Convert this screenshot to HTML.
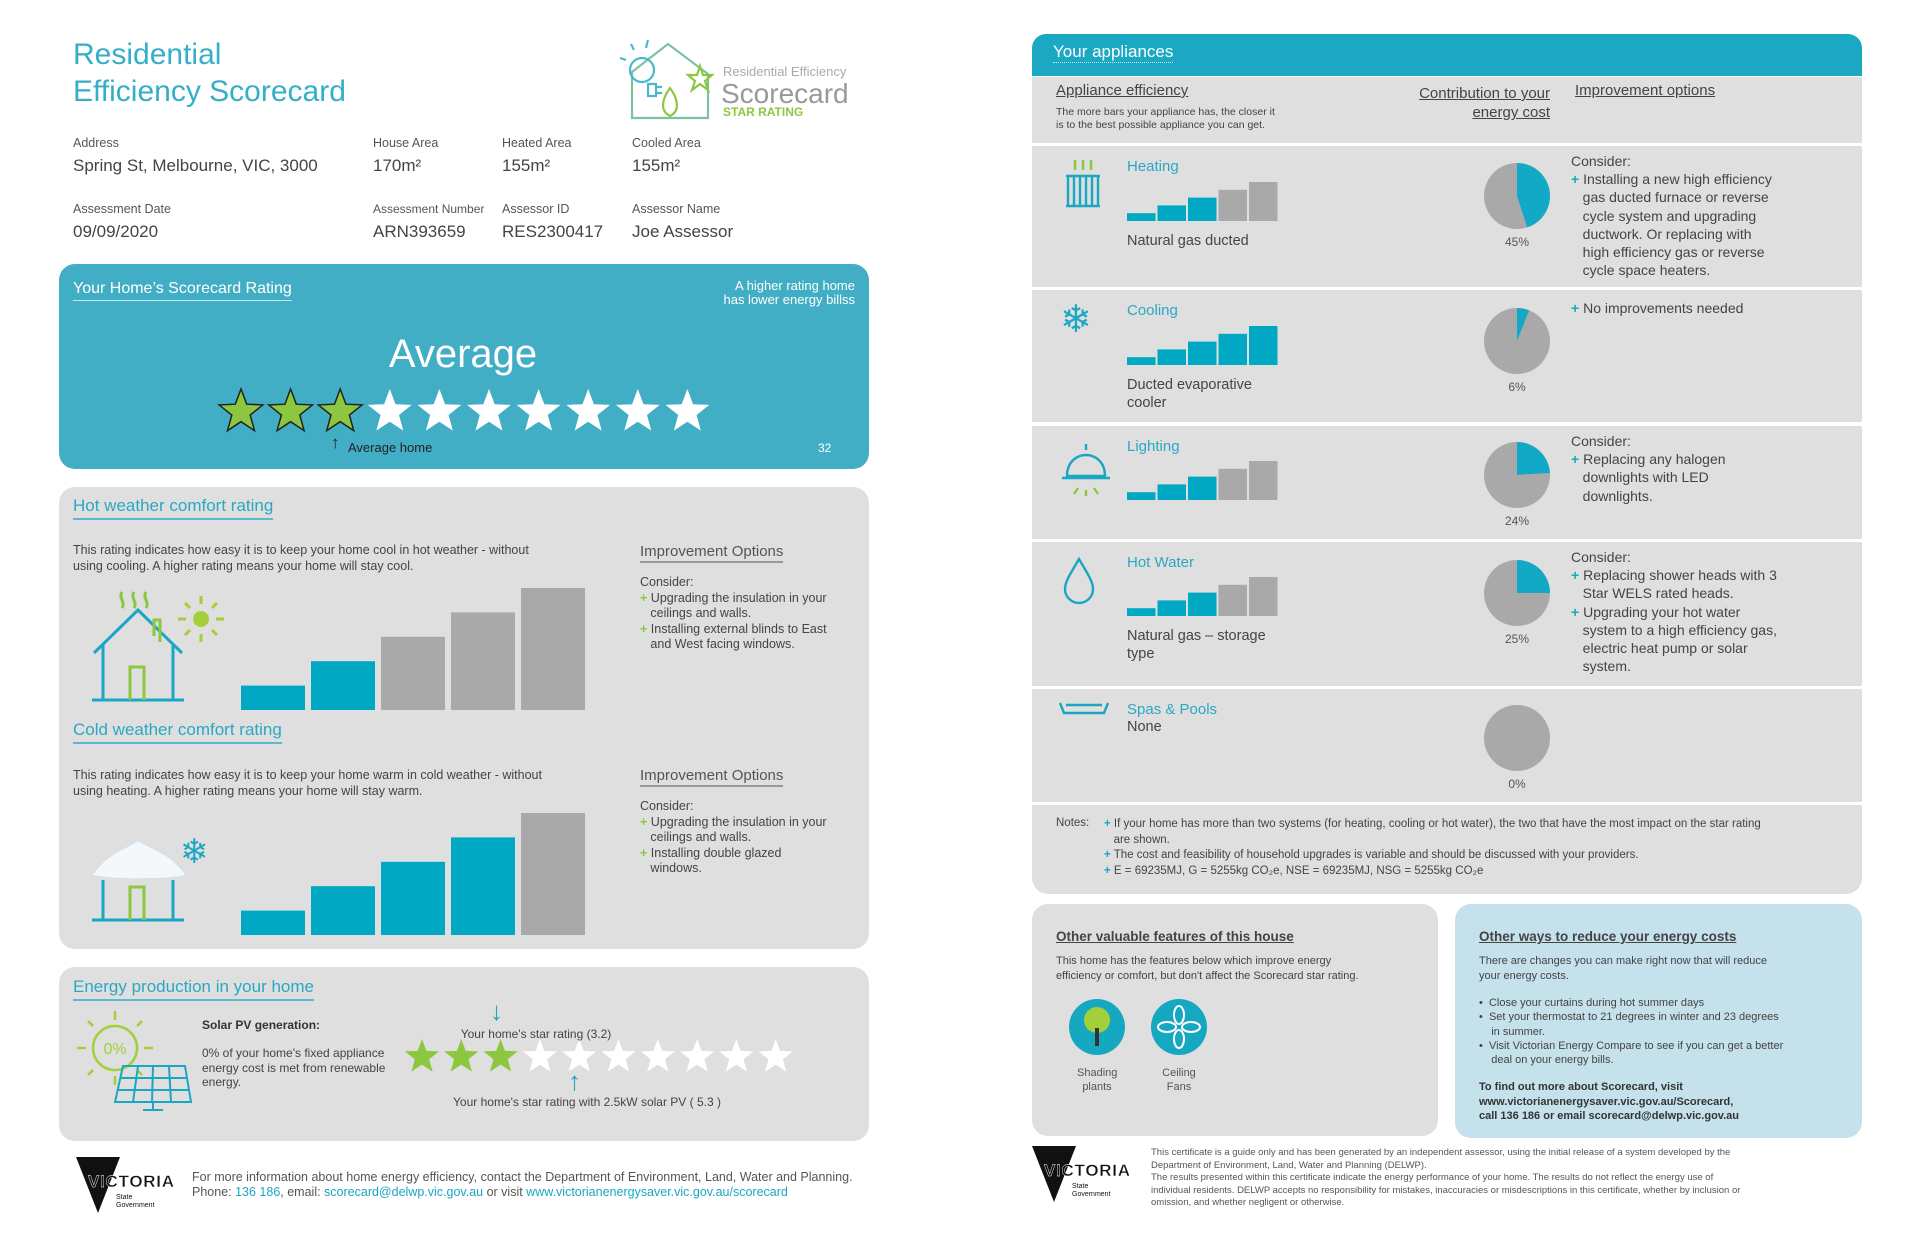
<!DOCTYPE html>
<html><head><meta charset="utf-8">
<style>
*{margin:0;padding:0;box-sizing:border-box}
body{width:1920px;height:1234px;background:#fff;position:relative;overflow:hidden;font-family:"Liberation Sans Narrow","Liberation Sans",sans-serif;color:#444}
.a{position:absolute;white-space:nowrap;line-height:1.2}
.lbl{font-size:12.5px;color:#555}
.val{font-size:17px;color:#444}
.box{position:absolute;border-radius:16px}
.h{color:#2aa8c4;font-size:17px;border-bottom:2px solid #5bbad0;padding-bottom:2px}
.p{font-size:12.5px;color:#444;line-height:15.5px}
.pl{color:#8dc63f;font-weight:bold}
.tp{color:#1ba6c4;font-weight:bold}
.ul{text-decoration:underline}
</style></head><body>
<div class="a" style="left:73px;top:36px;font-size:30px;color:#35aec8;line-height:37px">Residential<br>Efficiency Scorecard</div>
<svg class="a" style="left:620px;top:36px" width="100" height="86" viewBox="0 0 100 86">
<g fill="none" stroke-width="2.2"><path d="M12 82 V36 L48 8 L88 38 V82 Z" stroke="#7cc3a0"/><circle cx="22" cy="34" r="12" stroke="#4ab7cf"/><path d="M6 24 L0 22 M14 14 L11 8 M26 12 L28 4" stroke="#4ab7cf"/><path d="M28 48 h8 v12 h-8z M36 51 h6 M36 57 h6" stroke="#4ab7cf"/><path d="M50 80 c-12 -6 -6 -20 0 -28 c6 8 12 22 0 28z" stroke="#8dc63f"/><polygon points="80,30 83,39 92,39 85,45 88,54 80,48 72,54 75,45 68,39 77,39" stroke="#8dc63f"/></g></svg>
<div class="a" style="left:723px;top:64px;font-size:13px;color:#aaa">Residential Efficiency</div>
<div class="a" style="left:721px;top:77px;font-size:28px;color:#999">Scorecard</div>
<div class="a" style="left:723px;top:105px;font-size:12px;color:#8dc63f;font-weight:bold">STAR RATING</div>

<div class="a lbl" style="left:73px;top:136px">Address</div>
<div class="a val" style="left:73px;top:156px">Spring St, Melbourne, VIC, 3000</div>
<div class="a lbl" style="left:373px;top:136px">House Area</div>
<div class="a val" style="left:373px;top:156px">170m²</div>
<div class="a lbl" style="left:502px;top:136px">Heated Area</div>
<div class="a val" style="left:502px;top:156px">155m²</div>
<div class="a lbl" style="left:632px;top:136px">Cooled Area</div>
<div class="a val" style="left:632px;top:156px">155m²</div>
<div class="a lbl" style="left:73px;top:202px">Assessment Date</div>
<div class="a val" style="left:73px;top:222px">09/09/2020</div>
<div class="a lbl" style="left:373px;top:202px;font-size:12px">Assessment Number</div>
<div class="a val" style="left:373px;top:222px">ARN393659</div>
<div class="a lbl" style="left:502px;top:202px">Assessor ID</div>
<div class="a val" style="left:502px;top:222px">RES2300417</div>
<div class="a lbl" style="left:632px;top:202px">Assessor Name</div>
<div class="a val" style="left:632px;top:222px">Joe Assessor</div>

<div class="box" style="left:59px;top:264px;width:810px;height:205px;background:#42aec5"></div>
<div class="a" style="left:73px;top:279px;font-size:16px;color:#fff;border-bottom:1px solid #bfe6ee;padding-bottom:2px">Your Home’s Scorecard Rating</div>
<div class="a" style="left:700px;top:279px;font-size:13px;color:#fff;line-height:14px;text-align:right;width:155px">A higher rating home<br>has lower energy billss</div>
<div class="a" style="left:363px;top:330px;width:200px;text-align:center;font-size:40px;color:#fff">Average</div>
<div class="a" style="left:331px;top:433px;font-size:17px;color:#222">↑</div>
<div class="a" style="left:348px;top:440px;font-size:13px;color:#222">Average home</div>
<div class="a" style="left:818px;top:441px;font-size:12px;color:#fff">32</div>
<svg id="svg-main" class="a" style="left:0;top:0" width="1920" height="1234"></svg>

<div class="box" style="left:59px;top:487px;width:810px;height:462px;background:#dfdfdf;z-index:-1"></div>
<div class="a h" style="left:73px;top:496px">Hot weather comfort rating</div>
<div class="a p" style="left:73px;top:543px">This rating indicates how easy it is to keep your home cool in hot weather - without<br>using cooling. A higher rating means your home will stay cool.</div>
<div class="a" style="left:640px;top:543px;font-size:15px;color:#555;border-bottom:2px solid #999">Improvement Options</div>
<div class="a p" style="left:640px;top:575px">Consider:<br><span class="pl">+</span> Upgrading the insulation in your<br>&nbsp;&nbsp;&nbsp;ceilings and walls.<br><span class="pl">+</span> Installing external blinds to East<br>&nbsp;&nbsp;&nbsp;and West facing windows.</div>
<div class="a h" style="left:73px;top:720px">Cold weather comfort rating</div>
<div class="a p" style="left:73px;top:768px">This rating indicates how easy it is to keep your home warm in cold weather - without<br>using heating. A higher rating means your home will stay warm.</div>
<div class="a" style="left:640px;top:767px;font-size:15px;color:#555;border-bottom:2px solid #999">Improvement Options</div>
<div class="a p" style="left:640px;top:799px">Consider:<br><span class="pl">+</span> Upgrading the insulation in your<br>&nbsp;&nbsp;&nbsp;ceilings and walls.<br><span class="pl">+</span> Installing double glazed<br>&nbsp;&nbsp;&nbsp;windows.</div>
<svg class="a" style="left:90px;top:590px" width="100" height="120"><g fill="none" stroke-width="3"><path d="M4 63 L48 20 L92 63 M13 55 V110 M83 55 V110 M2 110 H94" stroke="#1ba6c4"/><path d="M40 110 V77 H54 V110 M64 46 V30 H70 V52" stroke="#8dc63f"/><path d="M32 2 c-4 6 4 10 0 16 M44 2 c-4 6 4 10 0 16 M56 2 c-4 6 4 10 0 16" stroke="#8dc63f"/></g></svg>
<svg class="a" style="left:178px;top:596px" width="46" height="46"><circle cx="23" cy="23" r="8" fill="#a3cf3a"/><g stroke="#a3cf3a" stroke-width="3"><path d="M23 0v8M23 38v8M0 23h8M38 23h8M7 7l5 5M34 34l5 5M39 7l-5 5M12 34l-5 5"/></g></svg>
<svg class="a" style="left:90px;top:830px" width="100" height="100"><path d="M2 45 C20 20 40 18 48 10 C56 18 78 20 96 45 C80 50 20 50 2 45z" fill="#f4f8fb" stroke="#cde3ec"/><g fill="none" stroke-width="3"><path d="M13 50V90M83 50V90M2 90H94" stroke="#1ba6c4"/><path d="M40 90V57H54V90" stroke="#8dc63f"/></g></svg>
<div class="a" style="left:180px;top:832px;font-size:34px;color:#1ba6c4">❄</div>

<div class="box" style="left:59px;top:967px;width:810px;height:174px;background:#dfdfdf;z-index:-1"></div>
<div class="a h" style="left:73px;top:977px">Energy production in your home</div>
<svg class="a" style="left:73px;top:1008px" width="120" height="105"><circle cx="42" cy="40" r="22" fill="none" stroke="#a3cf3a" stroke-width="2.5"/><text x="42" y="46" text-anchor="middle" font-size="16" fill="#a3cf3a" font-family="Liberation Sans">0%</text><g stroke="#a3cf3a" stroke-width="2.5"><path d="M42 3v9M42 68v9M4 40h9M71 40h9M15 13l5 5M64 62l5 5M69 13l-5 5M20 62l-5 5"/></g><g stroke="#1ba6c4" stroke-width="2" fill="none"><path d="M50 58 H112 L118 94 H42 Z M65 58 L60 94 M80 58 L79 94 M96 58 L98 94 M47 70 H114 M45 82 H116 M80 94 V102 M70 102 H90"/></g></svg>
<div class="a" style="left:202px;top:1018px;font-size:12px;font-weight:bold;color:#333">Solar PV generation:</div>
<div class="a p" style="left:202px;top:1046px;font-size:12px;line-height:14.5px">0% of your home's fixed appliance<br>energy cost is met from renewable<br>energy.</div>
<div class="a" style="left:490px;top:996px;font-size:26px;color:#1ba6c4">↓</div>
<div class="a" style="left:436px;top:1027px;width:200px;text-align:center;font-size:12px;color:#444">Your home's star rating (3.2)</div>
<div class="a" style="left:568px;top:1066px;font-size:26px;color:#1ba6c4">↑</div>
<div class="a" style="left:437px;top:1095px;width:300px;text-align:center;font-size:12px;color:#444">Your home's star rating with 2.5kW solar PV ( 5.3 )</div>

<svg class="a" style="left:76px;top:1157px" width="110" height="56"><polygon points="0,0 44,0 22,56" fill="#111"/><text x="12" y="30" font-size="17" font-weight="bold" fill="#111" font-family="Liberation Sans" stroke="#fff" stroke-width="0.4" textLength="86">VICTORIA</text><text x="40" y="42" font-size="7" fill="#111" font-family="Liberation Sans">State</text><text x="40" y="50" font-size="7" fill="#111" font-family="Liberation Sans">Government</text></svg>
<div class="a" style="left:192px;top:1170px;font-size:12.5px;color:#555;line-height:15px">For more information about home energy efficiency, contact the Department of Environment, Land, Water and Planning.<br>Phone: <span style="color:#1ba6c4">136 186</span>, email: <span style="color:#1ba6c4">scorecard@delwp.vic.gov.au</span> or visit <span style="color:#1ba6c4">www.victorianenergysaver.vic.gov.au/scorecard</span></div>

<div class="box" style="left:1032px;top:34px;width:830px;height:860px;background:#fff;z-index:-2;overflow:hidden"></div>
<div class="a" style="left:1032px;top:34px;width:830px;height:42px;background:#1ca8c2;border-radius:14px 14px 0 0"></div>
<div class="a" style="left:1053px;top:42px;font-size:17px;color:#fff;border-bottom:1px dotted #d0eef4">Your appliances</div>
<div class="a" style="left:1032px;top:77px;width:830px;height:66px;background:#dfdfdf;z-index:-1"></div>
<div class="a ul" style="left:1056px;top:82px;font-size:15px;color:#444">Appliance efficiency</div>
<div class="a" style="left:1056px;top:106px;font-size:10.5px;color:#444;line-height:13px">The more bars your appliance has, the closer it<br>is to the best possible appliance you can get.</div>
<div class="a ul" style="left:1380px;top:84px;width:170px;text-align:right;font-size:15px;color:#444;line-height:19px">Contribution to your<br>energy cost</div>
<div class="a ul" style="left:1575px;top:82px;font-size:15px;color:#444">Improvement options</div>
<div id="rows"></div>

<div class="a" style="left:1032px;top:805px;width:830px;height:89px;background:#dfdfdf;z-index:-1;border-radius:0 0 16px 16px"></div>
<div class="a" style="left:1056px;top:817px;font-size:11.5px;color:#444">Notes:</div>
<div class="a" style="left:1104px;top:817px;font-size:11.5px;color:#444;line-height:15.5px"><span class="tp">+</span> If your home has more than two systems (for heating, cooling or hot water), the two that have the most impact on the star rating<br>&nbsp;&nbsp;&nbsp;are shown.<br><span class="tp">+</span> The cost and feasibility of household upgrades is variable and should be discussed with your providers.<br><span class="tp">+</span> E = 69235MJ, G = 5255kg CO₂e, NSE = 69235MJ, NSG = 5255kg CO₂e</div>

<div class="box" style="left:1032px;top:904px;width:406px;height:232px;background:#dfdfdf;z-index:-1"></div>
<div class="a ul" style="left:1056px;top:929px;font-size:13.5px;font-weight:bold;color:#444">Other valuable features of this house</div>
<div class="a" style="left:1056px;top:954px;font-size:11px;color:#444;line-height:15px">This home has the features below which improve energy<br>efficiency or comfort, but don't affect the Scorecard star rating.</div>
<svg class="a" style="left:1068px;top:998px" width="140" height="60"><circle cx="29" cy="29" r="28" fill="#15a8c0"/><circle cx="29" cy="22" r="13" fill="#a3cf3a"/><rect x="27" y="30" width="4" height="18" fill="#333"/><circle cx="111" cy="29" r="28" fill="#15a8c0"/><g fill="none" stroke="#fff" stroke-width="2"><ellipse cx="111" cy="17" rx="5" ry="9"/><ellipse cx="111" cy="41" rx="5" ry="9"/><ellipse cx="99" cy="29" rx="9" ry="5"/><ellipse cx="123" cy="29" rx="9" ry="5"/></g></svg>
<div class="a" style="left:1077px;top:1066px;width:40px;text-align:center;font-size:11px;color:#555;line-height:14px">Shading<br>plants</div>
<div class="a" style="left:1159px;top:1066px;width:40px;text-align:center;font-size:11px;color:#555;line-height:14px">Ceiling<br>Fans</div>

<div class="box" style="left:1455px;top:904px;width:407px;height:234px;background:#c4e1ec;z-index:-1"></div>
<div class="a ul" style="left:1479px;top:929px;font-size:13.5px;font-weight:bold;color:#444">Other ways to reduce your energy costs</div>
<div class="a" style="left:1479px;top:954px;font-size:11px;color:#444;line-height:15px">There are changes you can make right now that will reduce<br>your energy costs.</div>
<div class="a" style="left:1479px;top:996px;font-size:11px;color:#444;line-height:14.3px">•&nbsp; Close your curtains during hot summer days<br>•&nbsp; Set your thermostat to 21 degrees in winter and 23 degrees<br>&nbsp;&nbsp;&nbsp; in summer.<br>•&nbsp; Visit Victorian Energy Compare to see if you can get a better<br>&nbsp;&nbsp;&nbsp; deal on your energy bills.</div>
<div class="a" style="left:1479px;top:1080px;font-size:11px;font-weight:bold;color:#333;line-height:14.5px">To find out more about Scorecard, visit<br>www.victorianenergysaver.vic.gov.au/Scorecard,<br>call 136 186 or email scorecard@delwp.vic.gov.au</div>

<svg class="a" style="left:1032px;top:1146px" width="110" height="56"><polygon points="0,0 44,0 22,56" fill="#111"/><text x="12" y="30" font-size="17" font-weight="bold" fill="#111" font-family="Liberation Sans" stroke="#fff" stroke-width="0.4" textLength="86">VICTORIA</text><text x="40" y="42" font-size="7" fill="#111" font-family="Liberation Sans">State</text><text x="40" y="50" font-size="7" fill="#111" font-family="Liberation Sans">Government</text></svg>
<div class="a" style="left:1151px;top:1147px;font-size:9.5px;color:#555;line-height:12.6px">This certificate is a guide only and has been generated by an independent assessor, using the initial release of a system developed by the<br>Department of Environment, Land, Water and Planning (DELWP).<br>The results presented within this certificate indicate the energy performance of your home. The results do not reflect the energy use of<br>individual residents. DELWP accepts no responsibility for mistakes, inaccuracies or misdescriptions in this certificate, whether by inclusion or<br>omission, and whether negligent or otherwise.</div>

<script>
// ---- data ----
const ratingStarsTotal = 10;
const ratingStarsFilled = 3;
const solarStarsTotal = 10;
const solarStarsFilled = 3;
const hotComfortBars = [1, 2, 3, 4, 5];
const hotComfortFilled = 2;
const coldComfortBars = [1, 2, 3, 4, 5];
const coldComfortFilled = 4;
const applianceNames = ["Heating", "Cooling", "Lighting", "Hot Water", "Spas & Pools"];
const applianceTypes = ["Natural gas ducted", "Ducted evaporative<br>cooler", "", "Natural gas – storage<br>type", "None"];
const applianceLevels = [1, 2, 3, 4, 5];
const applianceFilled = [3, 5, 3, 3, 0];
const applianceShare = [45, 6, 24, 25, 0];
const applianceTips = [
 "Consider:<br><span class='tp'>+</span> Installing a new high efficiency<br>&nbsp;&nbsp;&nbsp;gas ducted furnace or reverse<br>&nbsp;&nbsp;&nbsp;cycle system and upgrading<br>&nbsp;&nbsp;&nbsp;ductwork. Or replacing with<br>&nbsp;&nbsp;&nbsp;high efficiency gas or reverse<br>&nbsp;&nbsp;&nbsp;cycle space heaters.",
 "<span class='tp'>+</span> No improvements needed",
 "Consider:<br><span class='tp'>+</span> Replacing any halogen<br>&nbsp;&nbsp;&nbsp;downlights with LED<br>&nbsp;&nbsp;&nbsp;downlights.",
 "Consider:<br><span class='tp'>+</span> Replacing shower heads with 3<br>&nbsp;&nbsp;&nbsp;Star WELS rated heads.<br><span class='tp'>+</span> Upgrading your hot water<br>&nbsp;&nbsp;&nbsp;system to a high efficiency gas,<br>&nbsp;&nbsp;&nbsp;electric heat pump or solar<br>&nbsp;&nbsp;&nbsp;system.",
 ""];

const NS = "http://www.w3.org/2000/svg";
const svg = document.getElementById('svg-main');
function mk(tag, attrs){const e=document.createElementNS(NS,tag);for(const k in attrs)e.setAttribute(k,attrs[k]);svg.appendChild(e);return e;}
function starPts(cx,cy,R){const r=R*0.42;let p=[];for(let i=0;i<10;i++){const a=-Math.PI/2+i*Math.PI/5;const rr=i%2?r:R;p.push((cx+rr*Math.cos(a)).toFixed(1)+','+(cy+rr*Math.sin(a)).toFixed(1));}return p.join(' ');}

function drawStars(n, filled, x0, step, cy, R, stroke, name){
 for(let i=0;i<n;i++){
  const s=mk('polygon',{points:starPts(x0+i*step,cy,R),fill:i<filled?'#8dc63f':'#fff',stroke:i<filled&&stroke?'#222':'none','stroke-width':1.5});
  
  
 }
}
drawStars(ratingStarsTotal, ratingStarsFilled, 241, 49.6, 412, 23, true, 'rating-star');
drawStars(solarStarsTotal, solarStarsFilled, 422, 39.3, 1057, 18, false, 'solar-star');

function barScale(level, maxLevel, maxH){return level/maxLevel*maxH;}
function drawComfort(levels, filled, baseY, name){
 const x0=241, w=64, gap=70, maxH=122;
 levels.forEach((lv,i)=>{
  const h=barScale(lv, levels.length, maxH);
  const r=mk('rect',{x:x0+i*gap,y:baseY-h,width:w,height:h,fill:i<filled?'#00a8c4':'#a9a9a9'});
  
  
 });
}
drawComfort(hotComfortBars, hotComfortFilled, 710, 'hot-bar');
drawComfort(coldComfortBars, coldComfortFilled, 935, 'cold-bar');

const rowTops=[146,290,426,542,689];
const rowHeights=[141,132,113,144,113];
const rowBarBase=[221,365,500,616,0];
const rowPieCy=[196,341,475,593,738];
const iconGlyph=["", "❄", "", "", ""];
const rows=document.getElementById('rows');
function div(html, style, name){const d=document.createElement('div');d.className='a';d.innerHTML=html;d.style.cssText=style;rows.appendChild(d);return d;}
applianceNames.forEach((nm,i)=>{
 const bg=document.createElement('div');bg.className='a';bg.style.cssText=`left:1032px;top:${rowTops[i]}px;width:830px;height:${rowHeights[i]}px;background:#dfdfdf;z-index:-1`;
 
 
 rows.appendChild(bg);
 const titleTop = rowTops[i]+12;
 div(nm, `left:1127px;top:${titleTop}px;font-size:15px;color:#2aa8c4`, 'appliance-name');
 if(i<4){
  applianceLevels.forEach((lv,j)=>{
   const h=barScale(lv, applianceLevels.length, 39);
   const r=mk('rect',{x:1127+j*30.5,y:rowBarBase[i]-h,width:28.5,height:h,fill:j<applianceFilled[i]?'#00a8c4':'#a9a9a9'});
   
   
  });
  if(applianceTypes[i]) div(applianceTypes[i], `left:1127px;top:${rowBarBase[i]+11}px;font-size:14.5px;color:#444;line-height:18px`, 'appliance-type');
 } else {
  div(applianceTypes[i], `left:1127px;top:${titleTop+18}px;font-size:14.5px;color:#444`, 'appliance-type');
 }
 const cx=1517, cy=rowPieCy[i], R=33;
 const c=mk('circle',{cx,cy,r:R,fill:'#a9a9a9'});
 
 
 const f=applianceShare[i]/100;
 if(f>0){
  const a=f*2*Math.PI;
  const ex=cx+R*Math.sin(a), ey=cy-R*Math.cos(a);
  const p=mk('path',{d:`M${cx},${cy} L${cx},${cy-R} A${R},${R} 0 ${f>0.5?1:0} 1 ${ex.toFixed(2)},${ey.toFixed(2)} Z`,fill:'#12a9c6'});
  
  
 }
 div(applianceShare[i]+'%', `left:${cx-20}px;top:${cy+R+6}px;width:40px;text-align:center;font-size:12px;color:#555`, 'pie-label');
 if(applianceTips[i]) div(applianceTips[i], `left:1571px;top:${rowTops[i]+(i==1?9:6)}px;font-size:14px;color:#444;line-height:18.2px`, 'improvement-tips');
 if(iconGlyph[i]) div(iconGlyph[i], `left:1060px;top:${rowTops[i]+8}px;font-size:38px;color:#1ba6c4`, 'appliance-icon');
});
function icon(d, stroke, name){const p=mk('path',{d,fill:'none',stroke,'stroke-width':2.4});}
icon('M1066 176 h34 M1066 206 h34 M1068 176 v30 M1074 176 v30 M1080 176 v30 M1086 176 v30 M1092 176 v30 M1098 176 v30','#1ba6c4','heating-icon');
icon('M1075 160 v10 M1083 160 v10 M1091 160 v10','#8dc63f','heating-icon-steam');
icon('M1067 476 c0 -28 38 -28 38 0 z M1062 478 h48 M1086 450 v-6','#1ba6c4','lighting-icon');
icon('M1078 488 l-4 6 M1086 490 v6 M1094 488 l4 6','#8dc63f','lighting-icon-rays');
icon('M1079 559 c-8 14 -14 22 -14 30 a14 14 0 0 0 28 0 c0 -8 -6 -16 -14 -30 z','#1ba6c4','hotwater-icon');
icon('M1060 703 l4 10 h40 l4 -10 M1066 705 h36','#1ba6c4','spa-icon');
</script>
</body></html>
